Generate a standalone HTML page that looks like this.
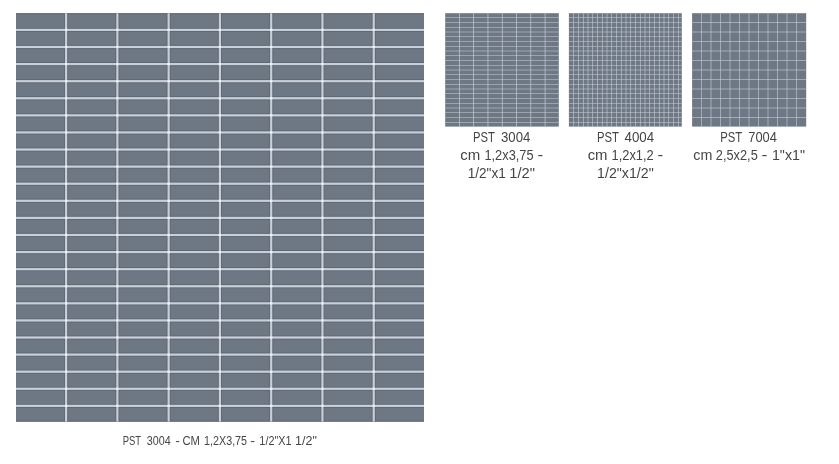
<!DOCTYPE html>
<html lang="it">
<head>
<meta charset="utf-8">
<title>PST 3004</title>
<style>
html,body{margin:0;padding:0;background:#fff;}
body{width:839px;height:464px;overflow:hidden;}
svg{display:block;will-change:transform;}
text{font-family:"Liberation Sans",sans-serif;fill:#434345;}
</style>
</head>
<body>
<svg width="839" height="464" viewBox="0 0 839 464">
<rect width="839" height="464" fill="#fff"/>

<g id="big">
<rect x="16.0" y="13.2" width="408.00" height="408.50" fill="#6e7885"/>
<rect x="16.0" y="13.20" width="408.00" height="1" fill="#59616c" opacity="0.7"/>
<rect x="16.0" y="30.97" width="408.00" height="1" fill="#59616c" opacity="0.7"/>
<rect x="16.0" y="48.06" width="408.00" height="1" fill="#59616c" opacity="0.7"/>
<rect x="16.0" y="65.16" width="408.00" height="1" fill="#59616c" opacity="0.7"/>
<rect x="16.0" y="82.24" width="408.00" height="1" fill="#59616c" opacity="0.7"/>
<rect x="16.0" y="99.33" width="408.00" height="1" fill="#59616c" opacity="0.7"/>
<rect x="16.0" y="116.42" width="408.00" height="1" fill="#59616c" opacity="0.7"/>
<rect x="16.0" y="133.51" width="408.00" height="1" fill="#59616c" opacity="0.7"/>
<rect x="16.0" y="150.60" width="408.00" height="1" fill="#59616c" opacity="0.7"/>
<rect x="16.0" y="167.69" width="408.00" height="1" fill="#59616c" opacity="0.7"/>
<rect x="16.0" y="184.78" width="408.00" height="1" fill="#59616c" opacity="0.7"/>
<rect x="16.0" y="201.88" width="408.00" height="1" fill="#59616c" opacity="0.7"/>
<rect x="16.0" y="218.97" width="408.00" height="1" fill="#59616c" opacity="0.7"/>
<rect x="16.0" y="236.05" width="408.00" height="1" fill="#59616c" opacity="0.7"/>
<rect x="16.0" y="253.14" width="408.00" height="1" fill="#59616c" opacity="0.7"/>
<rect x="16.0" y="270.23" width="408.00" height="1" fill="#59616c" opacity="0.7"/>
<rect x="16.0" y="287.32" width="408.00" height="1" fill="#59616c" opacity="0.7"/>
<rect x="16.0" y="304.41" width="408.00" height="1" fill="#59616c" opacity="0.7"/>
<rect x="16.0" y="321.50" width="408.00" height="1" fill="#59616c" opacity="0.7"/>
<rect x="16.0" y="338.59" width="408.00" height="1" fill="#59616c" opacity="0.7"/>
<rect x="16.0" y="355.68" width="408.00" height="1" fill="#59616c" opacity="0.7"/>
<rect x="16.0" y="372.77" width="408.00" height="1" fill="#59616c" opacity="0.7"/>
<rect x="16.0" y="389.86" width="408.00" height="1" fill="#59616c" opacity="0.7"/>
<rect x="16.0" y="406.95" width="408.00" height="1" fill="#59616c" opacity="0.7"/>
<rect x="16.0" y="27.82" width="408.00" height="1" fill="#59616c" opacity="0.7"/>
<rect x="16.0" y="44.91" width="408.00" height="1" fill="#59616c" opacity="0.7"/>
<rect x="16.0" y="62.00" width="408.00" height="1" fill="#59616c" opacity="0.7"/>
<rect x="16.0" y="79.09" width="408.00" height="1" fill="#59616c" opacity="0.7"/>
<rect x="16.0" y="96.18" width="408.00" height="1" fill="#59616c" opacity="0.7"/>
<rect x="16.0" y="113.27" width="408.00" height="1" fill="#59616c" opacity="0.7"/>
<rect x="16.0" y="130.37" width="408.00" height="1" fill="#59616c" opacity="0.7"/>
<rect x="16.0" y="147.46" width="408.00" height="1" fill="#59616c" opacity="0.7"/>
<rect x="16.0" y="164.55" width="408.00" height="1" fill="#59616c" opacity="0.7"/>
<rect x="16.0" y="181.64" width="408.00" height="1" fill="#59616c" opacity="0.7"/>
<rect x="16.0" y="198.73" width="408.00" height="1" fill="#59616c" opacity="0.7"/>
<rect x="16.0" y="215.82" width="408.00" height="1" fill="#59616c" opacity="0.7"/>
<rect x="16.0" y="232.91" width="408.00" height="1" fill="#59616c" opacity="0.7"/>
<rect x="16.0" y="250.00" width="408.00" height="1" fill="#59616c" opacity="0.7"/>
<rect x="16.0" y="267.08" width="408.00" height="1" fill="#59616c" opacity="0.7"/>
<rect x="16.0" y="284.18" width="408.00" height="1" fill="#59616c" opacity="0.7"/>
<rect x="16.0" y="301.26" width="408.00" height="1" fill="#59616c" opacity="0.7"/>
<rect x="16.0" y="318.35" width="408.00" height="1" fill="#59616c" opacity="0.7"/>
<rect x="16.0" y="335.44" width="408.00" height="1" fill="#59616c" opacity="0.7"/>
<rect x="16.0" y="352.53" width="408.00" height="1" fill="#59616c" opacity="0.7"/>
<rect x="16.0" y="369.62" width="408.00" height="1" fill="#59616c" opacity="0.7"/>
<rect x="16.0" y="386.71" width="408.00" height="1" fill="#59616c" opacity="0.7"/>
<rect x="16.0" y="403.81" width="408.00" height="1" fill="#59616c" opacity="0.7"/>
<rect x="16.0" y="420.70" width="408.00" height="1" fill="#59616c" opacity="0.7"/>
<rect x="64.02" y="13.2" width="4.15" height="408.50" fill="#59616c" opacity="0.6"/>
<rect x="115.30" y="13.2" width="4.15" height="408.50" fill="#59616c" opacity="0.6"/>
<rect x="166.56" y="13.2" width="4.15" height="408.50" fill="#59616c" opacity="0.6"/>
<rect x="217.84" y="13.2" width="4.15" height="408.50" fill="#59616c" opacity="0.6"/>
<rect x="269.11" y="13.2" width="4.15" height="408.50" fill="#59616c" opacity="0.6"/>
<rect x="320.38" y="13.2" width="4.15" height="408.50" fill="#59616c" opacity="0.6"/>
<rect x="371.65" y="13.2" width="4.15" height="408.50" fill="#59616c" opacity="0.6"/>
<rect x="16.0" y="28.82" width="408.00" height="2.15" fill="#c9cfd9"/>
<rect x="16.0" y="45.91" width="408.00" height="2.15" fill="#c9cfd9"/>
<rect x="16.0" y="63.00" width="408.00" height="2.15" fill="#c9cfd9"/>
<rect x="16.0" y="80.09" width="408.00" height="2.15" fill="#c9cfd9"/>
<rect x="16.0" y="97.18" width="408.00" height="2.15" fill="#c9cfd9"/>
<rect x="16.0" y="114.27" width="408.00" height="2.15" fill="#c9cfd9"/>
<rect x="16.0" y="131.37" width="408.00" height="2.15" fill="#c9cfd9"/>
<rect x="16.0" y="148.46" width="408.00" height="2.15" fill="#c9cfd9"/>
<rect x="16.0" y="165.55" width="408.00" height="2.15" fill="#c9cfd9"/>
<rect x="16.0" y="182.64" width="408.00" height="2.15" fill="#c9cfd9"/>
<rect x="16.0" y="199.73" width="408.00" height="2.15" fill="#c9cfd9"/>
<rect x="16.0" y="216.82" width="408.00" height="2.15" fill="#c9cfd9"/>
<rect x="16.0" y="233.91" width="408.00" height="2.15" fill="#c9cfd9"/>
<rect x="16.0" y="251.00" width="408.00" height="2.15" fill="#c9cfd9"/>
<rect x="16.0" y="268.08" width="408.00" height="2.15" fill="#c9cfd9"/>
<rect x="16.0" y="285.18" width="408.00" height="2.15" fill="#c9cfd9"/>
<rect x="16.0" y="302.26" width="408.00" height="2.15" fill="#c9cfd9"/>
<rect x="16.0" y="319.35" width="408.00" height="2.15" fill="#c9cfd9"/>
<rect x="16.0" y="336.44" width="408.00" height="2.15" fill="#c9cfd9"/>
<rect x="16.0" y="353.53" width="408.00" height="2.15" fill="#c9cfd9"/>
<rect x="16.0" y="370.62" width="408.00" height="2.15" fill="#c9cfd9"/>
<rect x="16.0" y="387.71" width="408.00" height="2.15" fill="#c9cfd9"/>
<rect x="16.0" y="404.81" width="408.00" height="2.15" fill="#c9cfd9"/>
<rect x="65.02" y="13.2" width="2.15" height="408.50" fill="#c9cfd9"/>
<rect x="116.30" y="13.2" width="2.15" height="408.50" fill="#c9cfd9"/>
<rect x="167.56" y="13.2" width="2.15" height="408.50" fill="#c9cfd9"/>
<rect x="218.84" y="13.2" width="2.15" height="408.50" fill="#c9cfd9"/>
<rect x="270.11" y="13.2" width="2.15" height="408.50" fill="#c9cfd9"/>
<rect x="321.38" y="13.2" width="2.15" height="408.50" fill="#c9cfd9"/>
<rect x="372.65" y="13.2" width="2.15" height="408.50" fill="#c9cfd9"/>
<rect x="65.02" y="28.82" width="2.15" height="2.15" fill="#f0f3f8"/>
<rect x="65.02" y="45.91" width="2.15" height="2.15" fill="#f0f3f8"/>
<rect x="65.02" y="63.00" width="2.15" height="2.15" fill="#f0f3f8"/>
<rect x="65.02" y="80.09" width="2.15" height="2.15" fill="#f0f3f8"/>
<rect x="65.02" y="97.18" width="2.15" height="2.15" fill="#f0f3f8"/>
<rect x="65.02" y="114.27" width="2.15" height="2.15" fill="#f0f3f8"/>
<rect x="65.02" y="131.37" width="2.15" height="2.15" fill="#f0f3f8"/>
<rect x="65.02" y="148.46" width="2.15" height="2.15" fill="#f0f3f8"/>
<rect x="65.02" y="165.55" width="2.15" height="2.15" fill="#f0f3f8"/>
<rect x="65.02" y="182.64" width="2.15" height="2.15" fill="#f0f3f8"/>
<rect x="65.02" y="199.73" width="2.15" height="2.15" fill="#f0f3f8"/>
<rect x="65.02" y="216.82" width="2.15" height="2.15" fill="#f0f3f8"/>
<rect x="65.02" y="233.91" width="2.15" height="2.15" fill="#f0f3f8"/>
<rect x="65.02" y="251.00" width="2.15" height="2.15" fill="#f0f3f8"/>
<rect x="65.02" y="268.08" width="2.15" height="2.15" fill="#f0f3f8"/>
<rect x="65.02" y="285.18" width="2.15" height="2.15" fill="#f0f3f8"/>
<rect x="65.02" y="302.26" width="2.15" height="2.15" fill="#f0f3f8"/>
<rect x="65.02" y="319.35" width="2.15" height="2.15" fill="#f0f3f8"/>
<rect x="65.02" y="336.44" width="2.15" height="2.15" fill="#f0f3f8"/>
<rect x="65.02" y="353.53" width="2.15" height="2.15" fill="#f0f3f8"/>
<rect x="65.02" y="370.62" width="2.15" height="2.15" fill="#f0f3f8"/>
<rect x="65.02" y="387.71" width="2.15" height="2.15" fill="#f0f3f8"/>
<rect x="65.02" y="404.81" width="2.15" height="2.15" fill="#f0f3f8"/>
<rect x="116.30" y="28.82" width="2.15" height="2.15" fill="#f0f3f8"/>
<rect x="116.30" y="45.91" width="2.15" height="2.15" fill="#f0f3f8"/>
<rect x="116.30" y="63.00" width="2.15" height="2.15" fill="#f0f3f8"/>
<rect x="116.30" y="80.09" width="2.15" height="2.15" fill="#f0f3f8"/>
<rect x="116.30" y="97.18" width="2.15" height="2.15" fill="#f0f3f8"/>
<rect x="116.30" y="114.27" width="2.15" height="2.15" fill="#f0f3f8"/>
<rect x="116.30" y="131.37" width="2.15" height="2.15" fill="#f0f3f8"/>
<rect x="116.30" y="148.46" width="2.15" height="2.15" fill="#f0f3f8"/>
<rect x="116.30" y="165.55" width="2.15" height="2.15" fill="#f0f3f8"/>
<rect x="116.30" y="182.64" width="2.15" height="2.15" fill="#f0f3f8"/>
<rect x="116.30" y="199.73" width="2.15" height="2.15" fill="#f0f3f8"/>
<rect x="116.30" y="216.82" width="2.15" height="2.15" fill="#f0f3f8"/>
<rect x="116.30" y="233.91" width="2.15" height="2.15" fill="#f0f3f8"/>
<rect x="116.30" y="251.00" width="2.15" height="2.15" fill="#f0f3f8"/>
<rect x="116.30" y="268.08" width="2.15" height="2.15" fill="#f0f3f8"/>
<rect x="116.30" y="285.18" width="2.15" height="2.15" fill="#f0f3f8"/>
<rect x="116.30" y="302.26" width="2.15" height="2.15" fill="#f0f3f8"/>
<rect x="116.30" y="319.35" width="2.15" height="2.15" fill="#f0f3f8"/>
<rect x="116.30" y="336.44" width="2.15" height="2.15" fill="#f0f3f8"/>
<rect x="116.30" y="353.53" width="2.15" height="2.15" fill="#f0f3f8"/>
<rect x="116.30" y="370.62" width="2.15" height="2.15" fill="#f0f3f8"/>
<rect x="116.30" y="387.71" width="2.15" height="2.15" fill="#f0f3f8"/>
<rect x="116.30" y="404.81" width="2.15" height="2.15" fill="#f0f3f8"/>
<rect x="167.56" y="28.82" width="2.15" height="2.15" fill="#f0f3f8"/>
<rect x="167.56" y="45.91" width="2.15" height="2.15" fill="#f0f3f8"/>
<rect x="167.56" y="63.00" width="2.15" height="2.15" fill="#f0f3f8"/>
<rect x="167.56" y="80.09" width="2.15" height="2.15" fill="#f0f3f8"/>
<rect x="167.56" y="97.18" width="2.15" height="2.15" fill="#f0f3f8"/>
<rect x="167.56" y="114.27" width="2.15" height="2.15" fill="#f0f3f8"/>
<rect x="167.56" y="131.37" width="2.15" height="2.15" fill="#f0f3f8"/>
<rect x="167.56" y="148.46" width="2.15" height="2.15" fill="#f0f3f8"/>
<rect x="167.56" y="165.55" width="2.15" height="2.15" fill="#f0f3f8"/>
<rect x="167.56" y="182.64" width="2.15" height="2.15" fill="#f0f3f8"/>
<rect x="167.56" y="199.73" width="2.15" height="2.15" fill="#f0f3f8"/>
<rect x="167.56" y="216.82" width="2.15" height="2.15" fill="#f0f3f8"/>
<rect x="167.56" y="233.91" width="2.15" height="2.15" fill="#f0f3f8"/>
<rect x="167.56" y="251.00" width="2.15" height="2.15" fill="#f0f3f8"/>
<rect x="167.56" y="268.08" width="2.15" height="2.15" fill="#f0f3f8"/>
<rect x="167.56" y="285.18" width="2.15" height="2.15" fill="#f0f3f8"/>
<rect x="167.56" y="302.26" width="2.15" height="2.15" fill="#f0f3f8"/>
<rect x="167.56" y="319.35" width="2.15" height="2.15" fill="#f0f3f8"/>
<rect x="167.56" y="336.44" width="2.15" height="2.15" fill="#f0f3f8"/>
<rect x="167.56" y="353.53" width="2.15" height="2.15" fill="#f0f3f8"/>
<rect x="167.56" y="370.62" width="2.15" height="2.15" fill="#f0f3f8"/>
<rect x="167.56" y="387.71" width="2.15" height="2.15" fill="#f0f3f8"/>
<rect x="167.56" y="404.81" width="2.15" height="2.15" fill="#f0f3f8"/>
<rect x="218.84" y="28.82" width="2.15" height="2.15" fill="#f0f3f8"/>
<rect x="218.84" y="45.91" width="2.15" height="2.15" fill="#f0f3f8"/>
<rect x="218.84" y="63.00" width="2.15" height="2.15" fill="#f0f3f8"/>
<rect x="218.84" y="80.09" width="2.15" height="2.15" fill="#f0f3f8"/>
<rect x="218.84" y="97.18" width="2.15" height="2.15" fill="#f0f3f8"/>
<rect x="218.84" y="114.27" width="2.15" height="2.15" fill="#f0f3f8"/>
<rect x="218.84" y="131.37" width="2.15" height="2.15" fill="#f0f3f8"/>
<rect x="218.84" y="148.46" width="2.15" height="2.15" fill="#f0f3f8"/>
<rect x="218.84" y="165.55" width="2.15" height="2.15" fill="#f0f3f8"/>
<rect x="218.84" y="182.64" width="2.15" height="2.15" fill="#f0f3f8"/>
<rect x="218.84" y="199.73" width="2.15" height="2.15" fill="#f0f3f8"/>
<rect x="218.84" y="216.82" width="2.15" height="2.15" fill="#f0f3f8"/>
<rect x="218.84" y="233.91" width="2.15" height="2.15" fill="#f0f3f8"/>
<rect x="218.84" y="251.00" width="2.15" height="2.15" fill="#f0f3f8"/>
<rect x="218.84" y="268.08" width="2.15" height="2.15" fill="#f0f3f8"/>
<rect x="218.84" y="285.18" width="2.15" height="2.15" fill="#f0f3f8"/>
<rect x="218.84" y="302.26" width="2.15" height="2.15" fill="#f0f3f8"/>
<rect x="218.84" y="319.35" width="2.15" height="2.15" fill="#f0f3f8"/>
<rect x="218.84" y="336.44" width="2.15" height="2.15" fill="#f0f3f8"/>
<rect x="218.84" y="353.53" width="2.15" height="2.15" fill="#f0f3f8"/>
<rect x="218.84" y="370.62" width="2.15" height="2.15" fill="#f0f3f8"/>
<rect x="218.84" y="387.71" width="2.15" height="2.15" fill="#f0f3f8"/>
<rect x="218.84" y="404.81" width="2.15" height="2.15" fill="#f0f3f8"/>
<rect x="270.11" y="28.82" width="2.15" height="2.15" fill="#f0f3f8"/>
<rect x="270.11" y="45.91" width="2.15" height="2.15" fill="#f0f3f8"/>
<rect x="270.11" y="63.00" width="2.15" height="2.15" fill="#f0f3f8"/>
<rect x="270.11" y="80.09" width="2.15" height="2.15" fill="#f0f3f8"/>
<rect x="270.11" y="97.18" width="2.15" height="2.15" fill="#f0f3f8"/>
<rect x="270.11" y="114.27" width="2.15" height="2.15" fill="#f0f3f8"/>
<rect x="270.11" y="131.37" width="2.15" height="2.15" fill="#f0f3f8"/>
<rect x="270.11" y="148.46" width="2.15" height="2.15" fill="#f0f3f8"/>
<rect x="270.11" y="165.55" width="2.15" height="2.15" fill="#f0f3f8"/>
<rect x="270.11" y="182.64" width="2.15" height="2.15" fill="#f0f3f8"/>
<rect x="270.11" y="199.73" width="2.15" height="2.15" fill="#f0f3f8"/>
<rect x="270.11" y="216.82" width="2.15" height="2.15" fill="#f0f3f8"/>
<rect x="270.11" y="233.91" width="2.15" height="2.15" fill="#f0f3f8"/>
<rect x="270.11" y="251.00" width="2.15" height="2.15" fill="#f0f3f8"/>
<rect x="270.11" y="268.08" width="2.15" height="2.15" fill="#f0f3f8"/>
<rect x="270.11" y="285.18" width="2.15" height="2.15" fill="#f0f3f8"/>
<rect x="270.11" y="302.26" width="2.15" height="2.15" fill="#f0f3f8"/>
<rect x="270.11" y="319.35" width="2.15" height="2.15" fill="#f0f3f8"/>
<rect x="270.11" y="336.44" width="2.15" height="2.15" fill="#f0f3f8"/>
<rect x="270.11" y="353.53" width="2.15" height="2.15" fill="#f0f3f8"/>
<rect x="270.11" y="370.62" width="2.15" height="2.15" fill="#f0f3f8"/>
<rect x="270.11" y="387.71" width="2.15" height="2.15" fill="#f0f3f8"/>
<rect x="270.11" y="404.81" width="2.15" height="2.15" fill="#f0f3f8"/>
<rect x="321.38" y="28.82" width="2.15" height="2.15" fill="#f0f3f8"/>
<rect x="321.38" y="45.91" width="2.15" height="2.15" fill="#f0f3f8"/>
<rect x="321.38" y="63.00" width="2.15" height="2.15" fill="#f0f3f8"/>
<rect x="321.38" y="80.09" width="2.15" height="2.15" fill="#f0f3f8"/>
<rect x="321.38" y="97.18" width="2.15" height="2.15" fill="#f0f3f8"/>
<rect x="321.38" y="114.27" width="2.15" height="2.15" fill="#f0f3f8"/>
<rect x="321.38" y="131.37" width="2.15" height="2.15" fill="#f0f3f8"/>
<rect x="321.38" y="148.46" width="2.15" height="2.15" fill="#f0f3f8"/>
<rect x="321.38" y="165.55" width="2.15" height="2.15" fill="#f0f3f8"/>
<rect x="321.38" y="182.64" width="2.15" height="2.15" fill="#f0f3f8"/>
<rect x="321.38" y="199.73" width="2.15" height="2.15" fill="#f0f3f8"/>
<rect x="321.38" y="216.82" width="2.15" height="2.15" fill="#f0f3f8"/>
<rect x="321.38" y="233.91" width="2.15" height="2.15" fill="#f0f3f8"/>
<rect x="321.38" y="251.00" width="2.15" height="2.15" fill="#f0f3f8"/>
<rect x="321.38" y="268.08" width="2.15" height="2.15" fill="#f0f3f8"/>
<rect x="321.38" y="285.18" width="2.15" height="2.15" fill="#f0f3f8"/>
<rect x="321.38" y="302.26" width="2.15" height="2.15" fill="#f0f3f8"/>
<rect x="321.38" y="319.35" width="2.15" height="2.15" fill="#f0f3f8"/>
<rect x="321.38" y="336.44" width="2.15" height="2.15" fill="#f0f3f8"/>
<rect x="321.38" y="353.53" width="2.15" height="2.15" fill="#f0f3f8"/>
<rect x="321.38" y="370.62" width="2.15" height="2.15" fill="#f0f3f8"/>
<rect x="321.38" y="387.71" width="2.15" height="2.15" fill="#f0f3f8"/>
<rect x="321.38" y="404.81" width="2.15" height="2.15" fill="#f0f3f8"/>
<rect x="372.65" y="28.82" width="2.15" height="2.15" fill="#f0f3f8"/>
<rect x="372.65" y="45.91" width="2.15" height="2.15" fill="#f0f3f8"/>
<rect x="372.65" y="63.00" width="2.15" height="2.15" fill="#f0f3f8"/>
<rect x="372.65" y="80.09" width="2.15" height="2.15" fill="#f0f3f8"/>
<rect x="372.65" y="97.18" width="2.15" height="2.15" fill="#f0f3f8"/>
<rect x="372.65" y="114.27" width="2.15" height="2.15" fill="#f0f3f8"/>
<rect x="372.65" y="131.37" width="2.15" height="2.15" fill="#f0f3f8"/>
<rect x="372.65" y="148.46" width="2.15" height="2.15" fill="#f0f3f8"/>
<rect x="372.65" y="165.55" width="2.15" height="2.15" fill="#f0f3f8"/>
<rect x="372.65" y="182.64" width="2.15" height="2.15" fill="#f0f3f8"/>
<rect x="372.65" y="199.73" width="2.15" height="2.15" fill="#f0f3f8"/>
<rect x="372.65" y="216.82" width="2.15" height="2.15" fill="#f0f3f8"/>
<rect x="372.65" y="233.91" width="2.15" height="2.15" fill="#f0f3f8"/>
<rect x="372.65" y="251.00" width="2.15" height="2.15" fill="#f0f3f8"/>
<rect x="372.65" y="268.08" width="2.15" height="2.15" fill="#f0f3f8"/>
<rect x="372.65" y="285.18" width="2.15" height="2.15" fill="#f0f3f8"/>
<rect x="372.65" y="302.26" width="2.15" height="2.15" fill="#f0f3f8"/>
<rect x="372.65" y="319.35" width="2.15" height="2.15" fill="#f0f3f8"/>
<rect x="372.65" y="336.44" width="2.15" height="2.15" fill="#f0f3f8"/>
<rect x="372.65" y="353.53" width="2.15" height="2.15" fill="#f0f3f8"/>
<rect x="372.65" y="370.62" width="2.15" height="2.15" fill="#f0f3f8"/>
<rect x="372.65" y="387.71" width="2.15" height="2.15" fill="#f0f3f8"/>
<rect x="372.65" y="404.81" width="2.15" height="2.15" fill="#f0f3f8"/>
</g>
<g id="s1">
<rect x="445.2" y="13.2" width="113.60" height="113.40" fill="#6e7885"/>
<rect x="445.2" y="17.50" width="113.60" height="0.5" fill="#c9cfd9"/>
<rect x="445.2" y="22.25" width="113.60" height="0.5" fill="#c9cfd9"/>
<rect x="445.2" y="27.00" width="113.60" height="0.5" fill="#c9cfd9"/>
<rect x="445.2" y="31.75" width="113.60" height="0.5" fill="#c9cfd9"/>
<rect x="445.2" y="36.50" width="113.60" height="0.5" fill="#c9cfd9"/>
<rect x="445.2" y="41.25" width="113.60" height="0.5" fill="#c9cfd9"/>
<rect x="445.2" y="46.00" width="113.60" height="0.5" fill="#c9cfd9"/>
<rect x="445.2" y="50.75" width="113.60" height="0.5" fill="#c9cfd9"/>
<rect x="445.2" y="55.50" width="113.60" height="0.5" fill="#c9cfd9"/>
<rect x="445.2" y="60.25" width="113.60" height="0.5" fill="#c9cfd9"/>
<rect x="445.2" y="65.00" width="113.60" height="0.5" fill="#c9cfd9"/>
<rect x="445.2" y="69.75" width="113.60" height="0.5" fill="#c9cfd9"/>
<rect x="445.2" y="74.50" width="113.60" height="0.5" fill="#c9cfd9"/>
<rect x="445.2" y="79.25" width="113.60" height="0.5" fill="#c9cfd9"/>
<rect x="445.2" y="84.00" width="113.60" height="0.5" fill="#c9cfd9"/>
<rect x="445.2" y="88.75" width="113.60" height="0.5" fill="#c9cfd9"/>
<rect x="445.2" y="93.50" width="113.60" height="0.5" fill="#c9cfd9"/>
<rect x="445.2" y="98.25" width="113.60" height="0.5" fill="#c9cfd9"/>
<rect x="445.2" y="103.00" width="113.60" height="0.5" fill="#c9cfd9"/>
<rect x="445.2" y="107.75" width="113.60" height="0.5" fill="#c9cfd9"/>
<rect x="445.2" y="112.50" width="113.60" height="0.5" fill="#c9cfd9"/>
<rect x="445.2" y="117.25" width="113.60" height="0.5" fill="#c9cfd9"/>
<rect x="445.2" y="122.00" width="113.60" height="0.5" fill="#c9cfd9"/>
<rect x="459.07" y="13.2" width="0.66" height="113.40" fill="#c9cfd9"/>
<rect x="473.35" y="13.2" width="0.66" height="113.40" fill="#c9cfd9"/>
<rect x="487.63" y="13.2" width="0.66" height="113.40" fill="#c9cfd9"/>
<rect x="501.91" y="13.2" width="0.66" height="113.40" fill="#c9cfd9"/>
<rect x="516.19" y="13.2" width="0.66" height="113.40" fill="#c9cfd9"/>
<rect x="530.47" y="13.2" width="0.66" height="113.40" fill="#c9cfd9"/>
<rect x="544.75" y="13.2" width="0.66" height="113.40" fill="#c9cfd9"/>
</g>
<g id="s2">
<rect x="568.9" y="13.2" width="112.90" height="113.40" fill="#6e7885"/>
<rect x="568.9" y="17.50" width="112.90" height="0.5" fill="#c9cfd9"/>
<rect x="568.9" y="22.25" width="112.90" height="0.5" fill="#c9cfd9"/>
<rect x="568.9" y="27.00" width="112.90" height="0.5" fill="#c9cfd9"/>
<rect x="568.9" y="31.75" width="112.90" height="0.5" fill="#c9cfd9"/>
<rect x="568.9" y="36.50" width="112.90" height="0.5" fill="#c9cfd9"/>
<rect x="568.9" y="41.25" width="112.90" height="0.5" fill="#c9cfd9"/>
<rect x="568.9" y="46.00" width="112.90" height="0.5" fill="#c9cfd9"/>
<rect x="568.9" y="50.75" width="112.90" height="0.5" fill="#c9cfd9"/>
<rect x="568.9" y="55.50" width="112.90" height="0.5" fill="#c9cfd9"/>
<rect x="568.9" y="60.25" width="112.90" height="0.5" fill="#c9cfd9"/>
<rect x="568.9" y="65.00" width="112.90" height="0.5" fill="#c9cfd9"/>
<rect x="568.9" y="69.75" width="112.90" height="0.5" fill="#c9cfd9"/>
<rect x="568.9" y="74.50" width="112.90" height="0.5" fill="#c9cfd9"/>
<rect x="568.9" y="79.25" width="112.90" height="0.5" fill="#c9cfd9"/>
<rect x="568.9" y="84.00" width="112.90" height="0.5" fill="#c9cfd9"/>
<rect x="568.9" y="88.75" width="112.90" height="0.5" fill="#c9cfd9"/>
<rect x="568.9" y="93.50" width="112.90" height="0.5" fill="#c9cfd9"/>
<rect x="568.9" y="98.25" width="112.90" height="0.5" fill="#c9cfd9"/>
<rect x="568.9" y="103.00" width="112.90" height="0.5" fill="#c9cfd9"/>
<rect x="568.9" y="107.75" width="112.90" height="0.5" fill="#c9cfd9"/>
<rect x="568.9" y="112.50" width="112.90" height="0.5" fill="#c9cfd9"/>
<rect x="568.9" y="117.25" width="112.90" height="0.5" fill="#c9cfd9"/>
<rect x="568.9" y="122.00" width="112.90" height="0.5" fill="#c9cfd9"/>
<rect x="573.46" y="13.2" width="0.58" height="113.40" fill="#c9cfd9"/>
<rect x="578.21" y="13.2" width="0.58" height="113.40" fill="#c9cfd9"/>
<rect x="582.96" y="13.2" width="0.58" height="113.40" fill="#c9cfd9"/>
<rect x="587.71" y="13.2" width="0.58" height="113.40" fill="#c9cfd9"/>
<rect x="592.46" y="13.2" width="0.58" height="113.40" fill="#c9cfd9"/>
<rect x="597.21" y="13.2" width="0.58" height="113.40" fill="#c9cfd9"/>
<rect x="601.96" y="13.2" width="0.58" height="113.40" fill="#c9cfd9"/>
<rect x="606.71" y="13.2" width="0.58" height="113.40" fill="#c9cfd9"/>
<rect x="611.46" y="13.2" width="0.58" height="113.40" fill="#c9cfd9"/>
<rect x="616.21" y="13.2" width="0.58" height="113.40" fill="#c9cfd9"/>
<rect x="620.96" y="13.2" width="0.58" height="113.40" fill="#c9cfd9"/>
<rect x="625.71" y="13.2" width="0.58" height="113.40" fill="#c9cfd9"/>
<rect x="630.46" y="13.2" width="0.58" height="113.40" fill="#c9cfd9"/>
<rect x="635.21" y="13.2" width="0.58" height="113.40" fill="#c9cfd9"/>
<rect x="639.96" y="13.2" width="0.58" height="113.40" fill="#c9cfd9"/>
<rect x="644.71" y="13.2" width="0.58" height="113.40" fill="#c9cfd9"/>
<rect x="649.46" y="13.2" width="0.58" height="113.40" fill="#c9cfd9"/>
<rect x="654.21" y="13.2" width="0.58" height="113.40" fill="#c9cfd9"/>
<rect x="658.96" y="13.2" width="0.58" height="113.40" fill="#c9cfd9"/>
<rect x="663.71" y="13.2" width="0.58" height="113.40" fill="#c9cfd9"/>
<rect x="668.46" y="13.2" width="0.58" height="113.40" fill="#c9cfd9"/>
<rect x="673.21" y="13.2" width="0.58" height="113.40" fill="#c9cfd9"/>
<rect x="677.96" y="13.2" width="0.58" height="113.40" fill="#c9cfd9"/>
</g>
<g id="s3">
<rect x="692.1" y="13.2" width="114.10" height="113.40" fill="#6e7885"/>
<rect x="692.1" y="22.21" width="114.10" height="0.58" fill="#c9cfd9"/>
<rect x="692.1" y="31.71" width="114.10" height="0.58" fill="#c9cfd9"/>
<rect x="692.1" y="41.21" width="114.10" height="0.58" fill="#c9cfd9"/>
<rect x="692.1" y="50.71" width="114.10" height="0.58" fill="#c9cfd9"/>
<rect x="692.1" y="60.21" width="114.10" height="0.58" fill="#c9cfd9"/>
<rect x="692.1" y="69.71" width="114.10" height="0.58" fill="#c9cfd9"/>
<rect x="692.1" y="79.21" width="114.10" height="0.58" fill="#c9cfd9"/>
<rect x="692.1" y="88.71" width="114.10" height="0.58" fill="#c9cfd9"/>
<rect x="692.1" y="98.21" width="114.10" height="0.58" fill="#c9cfd9"/>
<rect x="692.1" y="107.71" width="114.10" height="0.58" fill="#c9cfd9"/>
<rect x="692.1" y="117.21" width="114.10" height="0.58" fill="#c9cfd9"/>
<rect x="701.21" y="13.2" width="0.58" height="113.40" fill="#c9cfd9"/>
<rect x="710.71" y="13.2" width="0.58" height="113.40" fill="#c9cfd9"/>
<rect x="720.21" y="13.2" width="0.58" height="113.40" fill="#c9cfd9"/>
<rect x="729.71" y="13.2" width="0.58" height="113.40" fill="#c9cfd9"/>
<rect x="739.21" y="13.2" width="0.58" height="113.40" fill="#c9cfd9"/>
<rect x="748.71" y="13.2" width="0.58" height="113.40" fill="#c9cfd9"/>
<rect x="758.21" y="13.2" width="0.58" height="113.40" fill="#c9cfd9"/>
<rect x="767.71" y="13.2" width="0.58" height="113.40" fill="#c9cfd9"/>
<rect x="777.21" y="13.2" width="0.58" height="113.40" fill="#c9cfd9"/>
<rect x="786.71" y="13.2" width="0.58" height="113.40" fill="#c9cfd9"/>
<rect x="796.21" y="13.2" width="0.58" height="113.40" fill="#c9cfd9"/>
</g>
<g id="labels" opacity="0.99">
<text y="445.0" font-size="12.5"><tspan x="122.63" textLength="18.18" lengthAdjust="spacingAndGlyphs">PST</tspan> <tspan x="146.79" textLength="23.92" lengthAdjust="spacingAndGlyphs">3004</tspan> <tspan x="175.18" textLength="4.64" lengthAdjust="spacingAndGlyphs">-</tspan> <tspan x="182.43" textLength="17.49" lengthAdjust="spacingAndGlyphs">CM</tspan> <tspan x="204.08" textLength="42.97" lengthAdjust="spacingAndGlyphs">1,2X3,75</tspan> <tspan x="250.34" textLength="4.91" lengthAdjust="spacingAndGlyphs">-</tspan> <tspan x="259.37" textLength="32.15" lengthAdjust="spacingAndGlyphs">1/2&quot;X1</tspan> <tspan x="295.05" textLength="21.78" lengthAdjust="spacingAndGlyphs">1/2&quot;</tspan></text>
<text y="141.6" font-size="14"><tspan x="472.89" textLength="21.67" lengthAdjust="spacingAndGlyphs">PST</tspan> <tspan x="501.00" textLength="29.29" lengthAdjust="spacingAndGlyphs">3004</tspan></text>
<text y="159.8" font-size="14"><tspan x="460.36" textLength="20.03" lengthAdjust="spacingAndGlyphs">cm</tspan> <tspan x="484.42" textLength="49.22" lengthAdjust="spacingAndGlyphs">1,2x3,75</tspan> <tspan x="537.64" textLength="5.73" lengthAdjust="spacingAndGlyphs">-</tspan></text>
<text y="177.8" font-size="14"><tspan x="467.66" textLength="38.10" lengthAdjust="spacingAndGlyphs">1/2&quot;x1</tspan> <tspan x="509.28" textLength="25.64" lengthAdjust="spacingAndGlyphs">1/2&quot;</tspan></text>
<text y="141.6" font-size="14"><tspan x="596.98" textLength="21.78" lengthAdjust="spacingAndGlyphs">PST</tspan> <tspan x="624.49" textLength="29.60" lengthAdjust="spacingAndGlyphs">4004</tspan></text>
<text y="159.8" font-size="14"><tspan x="587.67" textLength="19.92" lengthAdjust="spacingAndGlyphs">cm</tspan> <tspan x="611.52" textLength="42.23" lengthAdjust="spacingAndGlyphs">1,2x1,2</tspan> <tspan x="657.64" textLength="5.73" lengthAdjust="spacingAndGlyphs">-</tspan></text>
<text y="177.8" font-size="14"><tspan x="597.12" textLength="56.58" lengthAdjust="spacingAndGlyphs">1/2&quot;x1/2&quot;</tspan></text>
<text y="141.6" font-size="14"><tspan x="720.28" textLength="21.78" lengthAdjust="spacingAndGlyphs">PST</tspan> <tspan x="748.24" textLength="28.64" lengthAdjust="spacingAndGlyphs">7004</tspan></text>
<text y="159.8" font-size="14"><tspan x="693.39" textLength="19.05" lengthAdjust="spacingAndGlyphs">cm</tspan> <tspan x="715.86" textLength="41.88" lengthAdjust="spacingAndGlyphs">2,5x2,5</tspan> <tspan x="761.42" textLength="5.87" lengthAdjust="spacingAndGlyphs">-</tspan> <tspan x="771.91" textLength="33.09" lengthAdjust="spacingAndGlyphs">1&quot;x1&quot;</tspan></text>
</g>
</svg>
</body>
</html>
